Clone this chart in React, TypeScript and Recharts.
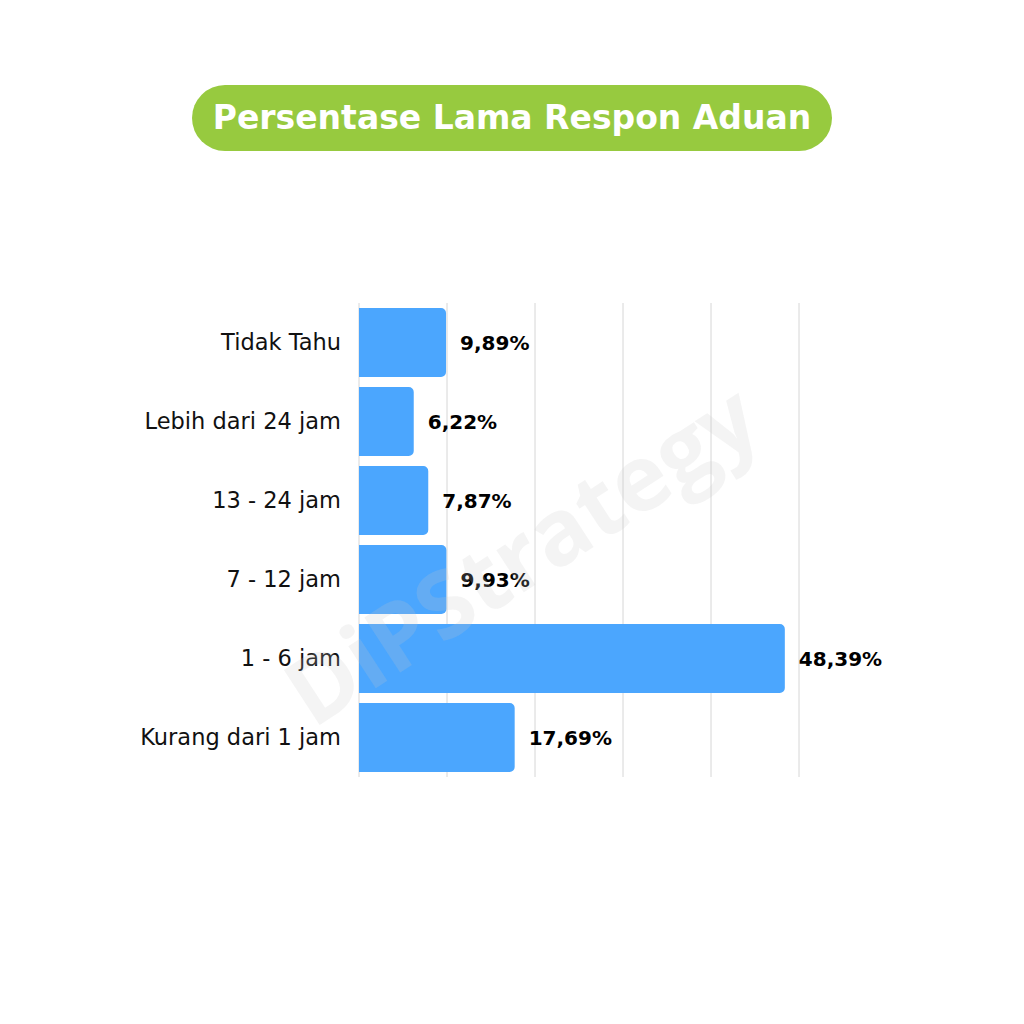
import { BarChart, Bar, XAxis, YAxis, CartesianGrid, LabelList } from "recharts";

const categories = [
  "Tidak Tahu",
  "Lebih dari 24 jam",
  "13 - 24 jam",
  "7 - 12 jam",
  "1 - 6 jam",
  "Kurang dari 1 jam",
];
const percentages = [9.89, 6.22, 7.87, 9.93, 48.39, 17.69];
const xTicks = [0, 10, 20, 30, 40, 50];

const data = categories.map((name, i) => ({ name, value: percentages[i] }));

const fmt = (v: number) => v.toFixed(2).replace(".", ",") + "%";

const FONT = "'DejaVu Sans', sans-serif";

export default function App() {
  return (
    <div style={{ position: "absolute", left: 0, top: 0, width: 1024, height: 1024, background: "#fff", overflow: "hidden" }}>
      <div
        style={{
          position: "absolute",
          left: 192,
          top: 85,
          width: 640,
          height: 66,
          borderRadius: 33,
          background: "#97ca3f",
          color: "#fff",
          fontFamily: FONT,
          fontWeight: 700,
          fontSize: 33,
          lineHeight: "66px",
          textAlign: "center",
        }}
      >
        Persentase Lama Respon Aduan
      </div>
      <BarChart
        width={1024}
        height={1024}
        data={data}
        layout="vertical"
        margin={{ top: 303, right: 225, bottom: 247, left: 0 }}
        barSize={69}
        style={{ position: "absolute", left: 0, top: 0 }}
      >
        <CartesianGrid horizontal={false} stroke="#d6d6d6" strokeWidth={1} />
        <XAxis type="number" domain={[0, 50]} ticks={xTicks} hide />
        <YAxis
          type="category"
          dataKey="name"
          width={359}
          axisLine={false}
          tickLine={false}
          tickMargin={12}
          tick={{ fill: "#111", fontSize: 22.5, fontFamily: FONT }}
        />
        <Bar dataKey="value" fill="#4ba6fe" radius={[0, 5, 5, 0]} isAnimationActive={false}>
          <LabelList
            dataKey="value"
            position="right"
            offset={14}
            formatter={(v: any) => fmt(Number(v))}
            style={{ fill: "#000", fontSize: 20, fontWeight: 700, fontFamily: FONT }}
          />
        </Bar>
      </BarChart>
      <div
        style={{
          position: "absolute",
          left: 220,
          top: 490,
          width: 600,
          textAlign: "center",
          transform: "rotate(-33deg)",
          transformOrigin: "center",
          fontFamily: "'Open Sans', sans-serif",
          fontWeight: 700,
          fontSize: 92,
          color: "rgba(200,200,200,0.2)",
          pointerEvents: "none",
          whiteSpace: "nowrap",
        }}
      >
        DiPStrategy
      </div>
    </div>
  );
}
